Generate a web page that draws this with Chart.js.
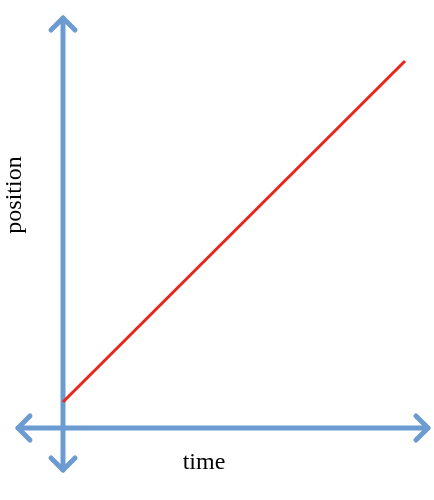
<!DOCTYPE html>
<html><head><meta charset="utf-8">
<script src="https://cdn.jsdelivr.net/npm/chart.js@4/dist/chart.umd.min.js"></script>
<style>html,body{margin:0;padding:0;background:#fff}#w{width:434px;height:500px}</style>
</head><body><div id="w"><canvas id="c"></canvas></div>
<script>
const timeValues = [0, 342];
const positionValues = [26, 367];
const xLabel = "time";
const yLabel = "position";

const axesPlugin = {
  id: 'axes',
  beforeDatasetsDraw(chart) {
    const ctx = chart.ctx, xs = chart.scales.x, ys = chart.scales.y;
    const x0 = xs.getPixelForValue(0), y0 = ys.getPixelForValue(0);
    const L = xs.left, R = xs.right, T = ys.top, B = ys.bottom;
    ctx.save();
    ctx.strokeStyle = '#6b9bd1'; ctx.lineWidth = 5; ctx.lineCap = 'round'; ctx.lineJoin = 'round';
    ctx.beginPath(); ctx.moveTo(L, y0); ctx.lineTo(R, y0); ctx.moveTo(x0, T); ctx.lineTo(x0, B); ctx.stroke();
    const h = 12;
    ctx.beginPath();
    ctx.moveTo(L + h, y0 - h); ctx.lineTo(L, y0); ctx.lineTo(L + h, y0 + h);
    ctx.moveTo(R - h, y0 - h); ctx.lineTo(R, y0); ctx.lineTo(R - h, y0 + h);
    ctx.moveTo(x0 - h, T + h); ctx.lineTo(x0, T); ctx.lineTo(x0 + h, T + h);
    ctx.moveTo(x0 - h, B - h); ctx.lineTo(x0, B); ctx.lineTo(x0 + h, B - h);
    ctx.stroke();
    ctx.fillStyle = '#000'; ctx.font = '24px "Liberation Serif", "DejaVu Serif", serif';
    ctx.textAlign = 'center'; ctx.textBaseline = 'middle';
    ctx.fillText(xLabel, 204, 463);
    ctx.translate(15, 195); ctx.rotate(-Math.PI / 2); ctx.fillText(yLabel, 0, 0);
    ctx.restore();
  }
};

new Chart(document.getElementById('c'), {
  type: 'line',
  data: { datasets: [{ data: timeValues.map((t, i) => ({ x: t, y: positionValues[i] })),
    borderColor: '#e8261c', borderWidth: 3, pointRadius: 0, fill: false }] },
  options: {
    responsive: true, maintainAspectRatio: false, animation: false,
    layout: { padding: { left: 18, right: 6, top: 18, bottom: 30 } },
    plugins: { legend: { display: false }, tooltip: { enabled: false } },
    scales: {
      x: { type: 'linear', min: -45, max: 365, display: false },
      y: { type: 'linear', min: -42, max: 410, display: false }
    }
  },
  plugins: [axesPlugin]
});
</script></body></html>
